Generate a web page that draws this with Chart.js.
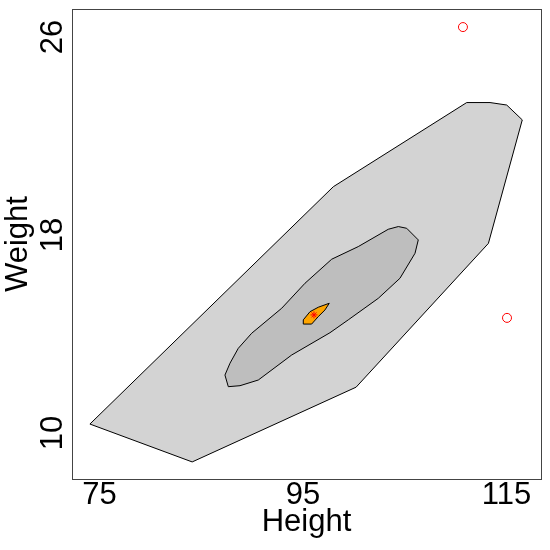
<!DOCTYPE html>
<html>
<head>
<meta charset="utf-8">
<script src="https://cdn.jsdelivr.net/npm/chart.js@4"></script>
<style>
  html, body { margin: 0; padding: 0; background: #ffffff; }
  #wrap { width: 550px; height: 550px; }
</style>
</head>
<body>
<div id="wrap"><canvas id="c" width="550" height="550"></canvas></div>
<script>
const loopX = [74.06, 84.11, 100.22, 113.22, 116.55, 115.02, 113.38, 111.09, 97.98];
const loopY = [10.36, 8.83, 11.85, 17.66, 22.65, 23.25, 23.35, 23.35, 19.95];

const bagX = [87.66, 87.33, 87.83, 88.64, 89.96, 92.91, 95.20, 97.82, 100.43, 103.38, 104.37, 105.19, 106.33, 106.01, 104.53, 102.40, 99.45, 97.65, 93.89, 90.61, 88.81];
const bagY = [11.87, 12.34, 12.82, 13.42, 14.03, 15.04, 16.05, 17.02, 17.53, 18.23, 18.34, 18.27, 17.80, 17.26, 16.25, 15.44, 14.57, 14.05, 13.15, 12.14, 11.91];

const centerX = [95.03, 95.03, 95.69, 96.50, 97.58, 97.16, 96.50, 95.85];
const centerY = [14.40, 14.57, 14.90, 15.08, 15.24, 14.97, 14.70, 14.40];

const medianX = [96.08];
const medianY = [14.77];

const outlierX = [110.72, 115.05];
const outlierY = [26.40, 14.65];

const xTicks = [75, 95, 115];
const yTicks = [10, 18, 26];

const xTitle = "Height";
const yTitle = "Weight";

// ---- helpers ----
function pts(xs, ys, close) {
  const p = xs.map((x, i) => ({ x: x, y: ys[i] }));
  if (close) p.push({ x: xs[0], y: ys[0] });
  return p;
}

const boxPlugin = {
  id: 'plotBox',
  afterDraw(chart) {
    const a = chart.chartArea, ctx = chart.ctx;
    ctx.save();
    ctx.strokeStyle = '#444444';
    ctx.lineWidth = 1;
    ctx.strokeRect(Math.round(a.left) + 0.5, Math.round(a.top) + 0.5,
                   Math.round(a.right - a.left), Math.round(a.bottom - a.top));
    ctx.restore();
  }
};

const FONT = "'Liberation Sans', Arial, sans-serif";

new Chart(document.getElementById('c'), {
  type: 'scatter',
  data: {
    datasets: [
      {
        label: 'outliers', data: pts(outlierX, outlierY, false), order: 0,
        pointStyle: 'circle', pointRadius: 4.5, pointBorderColor: '#FF0000',
        pointBackgroundColor: 'rgba(0,0,0,0)', pointBorderWidth: 1, showLine: false
      },
      {
        label: 'median', data: pts(medianX, medianY, false), order: 0,
        pointStyle: 'star', pointRadius: 3.5, pointBorderColor: '#FF0000',
        pointBorderWidth: 1, showLine: false
      },
      {
        label: 'center', data: pts(centerX, centerY, true), order: 1,
        showLine: true, fill: 'shape', backgroundColor: '#FFA500',
        borderColor: '#000000', borderWidth: 1, pointRadius: 0, tension: 0
      },
      {
        label: 'bag', data: pts(bagX, bagY, true), order: 2,
        showLine: true, fill: 'shape', backgroundColor: '#BEBEBE',
        borderColor: '#000000', borderWidth: 1, pointRadius: 0, tension: 0
      },
      {
        label: 'loop', data: pts(loopX, loopY, true), order: 3,
        showLine: true, fill: 'shape', backgroundColor: '#D3D3D3',
        borderColor: '#000000', borderWidth: 1, pointRadius: 0, tension: 0
      }
    ]
  },
  options: {
    responsive: false,
    animation: false,
    devicePixelRatio: 1,
    layout: { padding: { top: 9, right: 9, left: 0, bottom: 0 } },
    plugins: {
      legend: { display: false },
      tooltip: { enabled: false }
    },
    scales: {
      x: {
        type: 'linear', position: 'bottom',
        min: 72.3, max: 118.39,
        afterBuildTicks: (s) => { s.ticks = xTicks.map(v => ({ value: v })); },
        afterFit: (s) => { s.height = 71; s.paddingLeft = 0; s.paddingRight = 0; },
        grid: { display: false, drawTicks: false },
        border: { display: false },
        ticks: {
          autoSkip: false, maxRotation: 0, minRotation: 0, padding: -2,
          color: '#000000', font: { family: FONT, size: 31 }
        },
        title: {
          display: true, text: xTitle, color: '#000000',
          font: { family: FONT, size: 31 }, padding: { top: 0, bottom: 9 }
        }
      },
      y: {
        type: 'linear', position: 'left',
        min: 8.14, max: 27.13,
        afterBuildTicks: (s) => { s.ticks = yTicks.map(v => ({ value: v })); },
        afterFit: (s) => { s.width = 72; s.paddingTop = 0; s.paddingBottom = 0; },
        grid: { display: false, drawTicks: false },
        border: { display: false },
        ticks: {
          autoSkip: false, minRotation: 90, maxRotation: 90, crossAlign: 'center',
          padding: 1, color: '#000000', font: { family: FONT, size: 31 }
        },
        title: {
          display: true, text: yTitle, color: '#000000',
          font: { family: FONT, size: 31 }, padding: { top: 0, bottom: 3 }
        }
      }
    }
  },
  plugins: [boxPlugin]
});
</script>
</body>
</html>
